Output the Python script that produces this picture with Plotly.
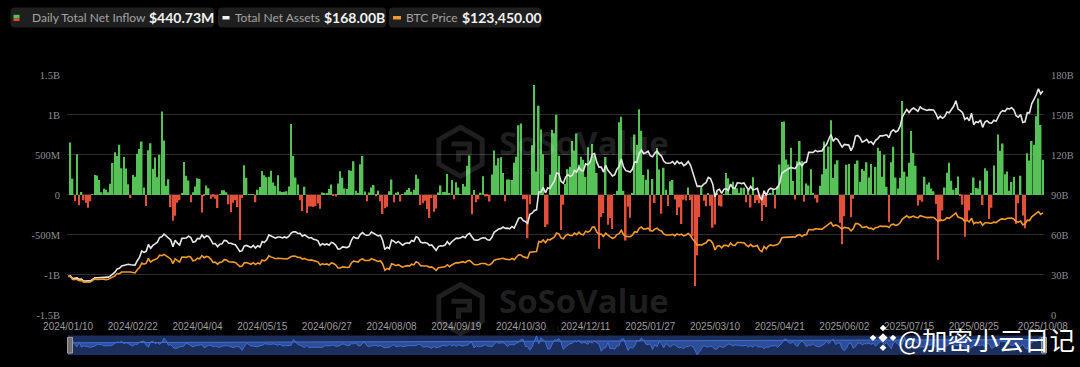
import plotly.graph_objects as go
import pandas as pd

# ---------------- data ----------------
START = "2024-01-10"
END = "2025-10-08"
HOLIDAYS = ["2024-01-15", "2024-02-19", "2024-03-29", "2024-05-27", "2024-06-19", "2024-07-04",
            "2024-09-02", "2024-11-28", "2024-12-25", "2025-01-01", "2025-01-09", "2025-01-20",
            "2025-02-17", "2025-04-18", "2025-05-26", "2025-06-19", "2025-07-04", "2025-09-01"]
DATES = [d.strftime("%Y/%m/%d") for d in pd.bdate_range(START, END, freq="C", holidays=HOLIDAYS)]

TICK_LABELS = ["2024/01/10", "2024/02/22", "2024/04/04", "2024/05/15", "2024/06/27", "2024/08/08",
               "2024/09/19", "2024/10/30", "2024/12/11", "2025/01/27", "2025/03/10", "2025/04/21",
               "2025/06/02", "2025/07/15", "2025/08/25", "2025/10/08"]

# Daily total net inflow, million USD
FLOW = [
    0, 655, 203, -78, 510, -130, 37, -65, -98, -159,
    -78, 8, 250, 242, 188, 35, 78, 65, 33, 139,
    400, 534, 486, 628, 335, 473, 330, 135, -37, 249,
    228, 514, 575, 669, 94, -139, 559, 645, 326, 469,
    220, 502, 1045, 681, 114, 196, -151, -322, -261, -98,
    -65, 24, 412, 241, 180, -90, 33, 106, 208, 200,
    -220, -8, 118, 82, -49, -24, -49, -163, 5, 57,
    57, 33, -118, -212, -98, -65, -151, -563, -37, 371,
    216, 5, 3, 5, -90, 65, 98, 298, 245, 220,
    228, 302, 155, 114, 245, 45, 37, 41, 45, 106,
    887, 488, 218, 131, -65, -200, 101, -226, -146, -146,
    -152, -140, -106, -174, 31, 21, 12, 73, 129, -14,
    -20, 143, 295, 216, 79, 73, 310, 301, 422, 53,
    20, 384, 486, 44, -78, 31, 92, 124, -18, 51,
    -80, -237, -168, -149, 45, 192, -90, 28, 40, -81,
    11, 33, 62, 88, 39, 65, 252, 203, -127, -105,
    -72, -175, -288, -37, -211, -170, 29, 117, 37, 39,
    263, 13, 187, -53, 158, 93, 5, 136, 106, 366,
    494, -243, 61, -92, -54, 26, 235, -19, -16, -81,
    254, 556, 371, 459, 471, 274, -79, 192, 192, 188,
    402, 479, 870, 893, -55, -55, -541, -117, 622, 1376,
    294, 1114, 818, 510, -401, -371, 255, 816, 773, 1002,
    490, -438, -123, 138, 320, 354, 676, 557, 767, 377,
    479, 439, 223, 597, 429, 637, 493, 275, -672, -277,
    -227, 475, -373, -288, -426, 5, 53, 908, 979, 52,
    -569, -149, -284, 19, 755, 626, 1073, 803, 249, 189,
    318, -458, 200, -100, 588, 318, -235, 341, 66, -140,
    172, 186, -57, -251, -156, -364, -61, -71, 94, -63,
    -516, -1138, -755, -276, 94, -74, -143, 22, -134, -409,
    -371, 13, -135, -144, 10, 275, 209, 10, 166, 83,
    84, 27, 90, 89, -93, 61, -158, 221, -100, -65,
    -104, -326, -127, -150, 2, 15, 76, -170, 107, 381,
    913, 917, 442, 380, 591, 173, -56, 422, 675, 425,
    -86, 142, 117, 321, 17, -40, -96, 115, 260, 667,
    329, 607, 935, 212, 385, 433, -347, -616, -268, 378,
    386, -278, -48, 386, 431, 165, 323, 302, 409, 217,
    388, 6, 350, 589, 549, 227, 501, 102, -342, 408,
    602, 217, 80, 216, 1176, 290, 230, 403, 799, 523,
    364, -131, -68, -86, 227, 131, 157, 80, 47, -115,
    -812, -333, -196, 92, 277, 404, 178, 66, 87, 231,
    -14, -122, -523, -312, -194, 23, 219, 88, 81, 180,
    -127, 333, 301, -301, -160, 368, 23, 757, 553, 642,
    260, 292, 51, 163, 223, -363, -104, 241, -258, -418,
    522, 430, 676, 627, 985, 1205, 876, 441,
]

# Total net assets, billion USD
TNA = [
    28.8, 29.3, 27.3, 27.4, 27.7, 26.6, 26.9, 25.4, 25.6, 25.6,
    25.4, 26.6, 27.8, 27.8, 27.8, 28.1, 28.3, 27.9, 28.3, 29.2,
    30.3, 32.0, 34.5, 34.9, 36.7, 37.3, 37.8, 38.0, 37.6, 37.5,
    37.3, 40.6, 43.1, 47.9, 46.9, 47.7, 52.8, 50.0, 52.1, 53.2,
    54.5, 58.0, 58.6, 60.6, 59.3, 58.0, 56.2, 51.2, 55.9, 53.8,
    52.4, 57.4, 57.8, 57.7, 59.0, 58.0, 54.4, 55.0, 57.3, 57.0,
    59.9, 57.8, 59.2, 58.8, 56.3, 53.2, 53.5, 51.2, 53.0, 53.3,
    55.9, 55.6, 53.7, 53.7, 53.0, 52.6, 50.1, 47.6, 48.2, 51.7,
    52.1, 51.4, 50.5, 52.1, 50.1, 51.9, 50.9, 55.1, 54.4, 56.1,
    60.0, 59.2, 58.5, 57.6, 58.4, 58.4, 57.7, 58.5, 57.8, 59.0,
    61.4, 62.4, 62.3, 61.1, 61.2, 59.1, 60.0, 58.5, 57.7, 58.0,
    56.7, 56.3, 55.5, 52.0, 53.4, 52.6, 53.2, 52.2, 54.4, 53.8,
    52.2, 49.3, 49.6, 51.0, 50.8, 50.5, 51.4, 56.0, 58.5, 57.6,
    57.4, 60.4, 61.7, 60.2, 59.6, 60.0, 62.1, 61.2, 60.6, 59.2,
    59.8, 56.0, 49.0, 50.7, 49.8, 56.1, 55.3, 53.9, 55.1, 53.3,
    52.3, 53.5, 54.1, 53.7, 55.8, 55.1, 58.7, 57.8, 54.6, 54.0,
    54.3, 53.8, 52.1, 52.5, 50.6, 48.4, 51.2, 51.9, 51.7, 52.4,
    55.0, 52.8, 54.9, 56.2, 57.6, 57.4, 57.8, 58.8, 57.9, 60.2,
    61.2, 58.6, 56.4, 56.1, 56.2, 57.4, 57.9, 57.7, 56.3, 56.0,
    58.2, 62.0, 63.4, 64.4, 64.7, 65.9, 64.9, 65.1, 64.6, 66.3,
    65.1, 68.9, 72.5, 73.0, 70.8, 70.0, 68.7, 75.4, 76.3, 78.3,
    78.8, 92.2, 92.2, 95.6, 91.6, 95.3, 94.9, 97.7, 100.5, 106.4,
    105.9, 100.1, 98.8, 103.2, 105.2, 103.9, 104.6, 108.3, 107.1, 110.7,
    108.4, 108.1, 113.3, 112.6, 114.6, 120.5, 121.1, 114.6, 110.9, 110.9,
    107.2, 112.2, 108.5, 106.4, 104.2, 105.1, 109.2, 111.3, 116.9, 111.0,
    108.2, 107.7, 107.2, 109.4, 114.8, 114.6, 121.0, 123.7, 121.1, 121.7,
    122.8, 119.4, 118.6, 121.3, 123.0, 120.6, 119.2, 115.4, 114.0, 113.8,
    113.9, 115.1, 113.0, 115.3, 113.6, 114.3, 111.9, 113.0, 115.1, 112.4,
    106.4, 102.2, 96.4, 96.6, 96.3, 98.2, 99.2, 103.1, 102.2, 98.1,
    88.5, 93.4, 94.2, 91.1, 94.3, 94.6, 93.4, 98.1, 95.2, 95.1,
    99.1, 99.0, 98.5, 99.0, 95.7, 93.6, 96.5, 93.7, 94.3, 95.0,
    88.8, 86.1, 93.1, 89.6, 93.8, 95.1, 94.1, 94.4, 95.5, 98.8,
    106.4, 107.7, 108.4, 109.7, 110.6, 110.0, 109.7, 112.8, 114.0, 111.8,
    114.2, 114.6, 122.0, 121.9, 121.8, 123.4, 122.5, 122.9, 123.0, 126.1,
    127.8, 131.8, 135.3, 130.2, 132.5, 131.6, 128.6, 125.9, 127.9, 127.8,
    127.4, 123.2, 126.6, 134.2, 134.7, 132.9, 129.6, 130.4, 131.7, 129.2,
    130.0, 128.0, 131.0, 132.3, 134.4, 134.3, 134.9, 135.1, 133.0, 137.4,
    138.9, 137.3, 138.3, 141.6, 148.6, 151.0, 154.2, 151.8, 154.0, 155.2,
    153.7, 152.8, 156.1, 154.6, 154.1, 153.4, 154.0, 154.0, 153.8, 151.1,
    147.1, 149.1, 147.5, 148.8, 152.3, 151.7, 154.4, 156.5, 160.7, 154.4,
    153.2, 151.7, 146.7, 148.0, 145.6, 151.3, 142.7, 145.0, 144.3, 146.3,
    140.7, 144.7, 145.7, 144.0, 143.9, 146.1, 145.3, 149.2, 151.9, 153.2,
    152.7, 154.9, 154.5, 155.4, 153.8, 149.4, 148.4, 150.3, 144.4, 144.9,
    151.7, 151.6, 158.4, 161.7, 165.0, 169.6, 165.8, 168.0,
]

# BTC price, thousand USD
BTC = [
    46.6, 46.3, 42.8, 43.1, 42.7, 41.3, 41.6, 39.5, 39.9, 40.1,
    39.9, 41.8, 43.3, 42.9, 42.6, 43.1, 43.2, 42.6, 43.1, 44.3,
    45.3, 47.1, 50.0, 49.7, 51.8, 51.9, 52.1, 52.3, 51.8, 51.3,
    50.7, 54.5, 57.1, 62.5, 61.2, 62.4, 68.3, 63.8, 66.1, 66.9,
    68.3, 72.1, 71.5, 73.1, 71.4, 69.5, 67.6, 61.9, 67.9, 65.5,
    63.8, 69.9, 69.9, 69.5, 70.8, 69.7, 65.4, 66.0, 68.5, 67.8,
    71.6, 69.1, 70.6, 70.0, 67.1, 63.4, 63.8, 61.3, 63.5, 63.8,
    66.8, 66.4, 64.3, 64.5, 63.8, 63.4, 60.6, 58.3, 59.1, 62.9,
    63.2, 62.3, 61.2, 63.1, 60.8, 62.9, 61.6, 66.3, 65.2, 67.0,
    71.4, 70.1, 69.1, 67.9, 68.5, 68.4, 67.6, 68.4, 67.5, 68.8,
    70.6, 71.1, 70.8, 69.3, 69.5, 67.3, 68.2, 66.8, 66.0, 66.5,
    65.2, 64.9, 64.1, 60.3, 61.8, 60.9, 61.6, 60.3, 62.7, 62.0,
    60.2, 56.7, 56.7, 58.0, 57.7, 57.3, 57.9, 62.8, 65.1, 64.1,
    63.9, 66.7, 67.6, 65.9, 65.4, 65.8, 67.9, 66.8, 66.2, 64.6,
    65.4, 61.5, 54.0, 56.0, 55.0, 61.7, 60.9, 59.4, 60.6, 58.7,
    57.6, 58.9, 59.5, 59.0, 61.2, 60.4, 64.1, 62.9, 59.5, 59.0,
    59.4, 59.1, 57.5, 58.0, 56.2, 53.9, 57.0, 57.6, 57.3, 58.1,
    60.6, 58.2, 60.3, 61.8, 63.2, 62.9, 63.3, 64.3, 63.1, 65.2,
    65.8, 63.3, 60.8, 60.6, 60.8, 62.1, 62.3, 62.1, 60.6, 60.3,
    62.4, 66.0, 67.0, 67.6, 67.4, 68.4, 67.4, 67.4, 66.7, 68.2,
    66.6, 69.9, 72.7, 72.3, 70.2, 69.5, 68.8, 75.6, 75.9, 76.5,
    76.7, 88.7, 87.9, 90.6, 87.2, 91.1, 90.5, 92.3, 94.3, 98.9,
    98.0, 93.0, 91.9, 95.9, 97.5, 95.9, 96.0, 98.8, 97.0, 99.9,
    97.4, 96.7, 101.2, 100.0, 101.4, 106.1, 106.1, 100.2, 97.5, 97.8,
    94.7, 98.7, 95.8, 94.2, 92.6, 93.4, 97.0, 98.1, 102.1, 96.9,
    95.0, 94.7, 94.5, 96.5, 100.5, 99.8, 104.5, 106.1, 103.7, 104.0,
    104.7, 102.1, 101.3, 103.7, 104.7, 102.4, 101.4, 97.9, 96.6, 96.6,
    96.5, 97.4, 95.7, 97.9, 96.6, 97.5, 95.6, 96.6, 98.3, 96.1,
    91.4, 88.7, 84.3, 84.7, 84.4, 86.1, 87.2, 90.6, 89.9, 86.7,
    78.5, 82.9, 83.7, 81.1, 84.0, 84.0, 82.7, 86.9, 84.2, 84.0,
    87.5, 87.4, 86.9, 87.2, 84.4, 82.5, 85.2, 82.5, 83.1, 83.8,
    78.4, 76.3, 82.6, 79.6, 83.4, 84.5, 83.6, 84.0, 84.9, 87.5,
    93.4, 93.7, 93.9, 94.7, 95.0, 94.3, 94.2, 96.5, 96.9, 94.7,
    96.8, 97.0, 103.2, 102.9, 102.8, 104.1, 103.5, 103.7, 103.5, 105.6,
    106.8, 109.6, 111.7, 107.3, 108.9, 107.8, 105.6, 103.9, 105.8, 105.4,
    104.7, 101.5, 104.3, 110.3, 110.3, 108.7, 105.7, 106.1, 106.8, 104.6,
    104.9, 103.3, 105.5, 106.0, 107.3, 107.0, 107.1, 107.1, 105.7, 108.9,
    109.6, 108.2, 108.9, 111.3, 115.9, 117.5, 119.8, 117.7, 118.7, 119.3,
    117.9, 117.3, 119.9, 118.8, 118.3, 117.6, 118.0, 117.9, 117.8, 115.8,
    113.3, 115.1, 114.1, 115.0, 117.5, 116.7, 118.7, 120.2, 123.3, 118.3,
    117.4, 116.3, 112.9, 114.2, 112.5, 116.9, 110.1, 111.8, 111.2, 112.6,
    108.4, 111.2, 111.7, 110.7, 110.7, 112.1, 111.5, 113.9, 115.5, 116.0,
    115.4, 116.8, 116.5, 117.1, 115.7, 112.7, 112.0, 113.3, 109.0, 109.7,
    114.4, 114.0, 118.6, 120.6, 122.3, 124.8, 121.4, 123.3,
]

assert len(DATES) == len(FLOW) == len(TNA) == len(BTC), (len(DATES), len(FLOW), len(TNA), len(BTC))

LEFT_TICKS = [-1500, -1000, -500, 0, 500, 1000, 1500]
LEFT_TEXT = ["-1.5B", "-1B", "-500M", "0", "500M", "1B", "1.5B"]
RIGHT_TICKS = [0, 30, 60, 90, 120, 150, 180]
RIGHT_TEXT = ["0", "30B", "60B", "90B", "120B", "150B", "180B"]

# ---------------- geometry / style ----------------
W, H = 1080, 367
ML, MR, MT, MB = 67, 36, 75, 6
PW, PH = W - ML - MR, H - MT - MB
MAIN_BOTTOM_PX = 320
SLIDER_TOP_PX = 341

def PX(x):
    return (x - ML) / PW

def PY(y):
    return (H - MB - y) / PH

GREEN = "#55c157"
RED = "#e2503c"
WHITE = "#e6e6e6"
ORANGE = "#f29a2e"
AXIS_GRAY = "#8c8c8c"

bar_colors = [GREEN if v >= 0 else RED for v in FLOW]

fig = go.Figure()
fig.add_trace(go.Bar(x=DATES, y=FLOW, marker=dict(color=bar_colors, line=dict(width=0)),
                     xaxis="x", yaxis="y", showlegend=False))
fig.add_trace(go.Scatter(x=DATES, y=TNA, mode="lines", line=dict(color=WHITE, width=1.6),
                         xaxis="x", yaxis="y2", showlegend=False))
fig.add_trace(go.Scatter(x=DATES, y=BTC, mode="lines", line=dict(color=ORANGE, width=1.6),
                         xaxis="x", yaxis="y3", showlegend=False))

# data-zoom slider shadow (bottom strip)
fmin, fmax = min(FLOW), max(FLOW)
fig.add_trace(go.Scatter(x=[DATES[0], DATES[-1]], y=[fmin, fmin], mode="lines",
                         line=dict(width=0), xaxis="x2", yaxis="y4", showlegend=False, hoverinfo="skip"))
fig.add_trace(go.Scatter(x=DATES, y=FLOW, mode="lines", line=dict(color="#3f6fd6", width=1),
                         fill="tonexty", fillcolor="rgba(52,88,170,0.75)",
                         xaxis="x2", yaxis="y4", showlegend=False, hoverinfo="skip"))

main_dom = [PY(MAIN_BOTTOM_PX), 1.0]
slider_dom = [0.0, PY(SLIDER_TOP_PX)]
NCAT = len(DATES)

axis_font = dict(family="Liberation Serif", size=10.5, color=AXIS_GRAY)

fig.update_layout(
    width=W, height=H,
    margin=dict(l=ML, r=MR, t=MT, b=MB),
    paper_bgcolor="#000000", plot_bgcolor="#000000",
    bargap=0.3,
    xaxis=dict(type="category", domain=[0, 1], anchor="y", range=[-0.5, NCAT - 0.5],
               tickmode="array", tickvals=TICK_LABELS, ticktext=TICK_LABELS,
               tickfont=dict(family="Liberation Sans", size=10, color="#9a9a9a"),
               showgrid=False, zeroline=False, showline=False, ticks="", ticklabelstandoff=4),
    yaxis=dict(domain=main_dom, range=[-1500, 1500], tickmode="array", tickvals=LEFT_TICKS,
               ticktext=LEFT_TEXT, tickfont=axis_font, gridcolor="#2f2f2f", gridwidth=1,
               zeroline=False, showline=False, ticks="", ticklabelstandoff=6),
    yaxis2=dict(overlaying="y", side="right", anchor="x", range=[0, 180], tickmode="array",
                tickvals=RIGHT_TICKS, ticktext=RIGHT_TEXT, tickfont=axis_font, showgrid=False,
                zeroline=False, showline=False, ticks="", ticklabelstandoff=6),
    yaxis3=dict(overlaying="y", range=[0, 290], visible=False),
    xaxis2=dict(type="category", domain=[0, 1], anchor="y4", range=[-0.5, NCAT - 0.5], visible=False),
    yaxis4=dict(domain=slider_dom, range=[fmin - 40, fmax + 40], visible=False),
)

shapes = []
# hide grid line at zero
shapes.append(dict(type="line", xref="paper", yref="y", x0=0, x1=1, y0=0, y1=0,
                   line=dict(color="#000000", width=2), layer="below"))
# slider background
shapes.append(dict(type="rect", xref="paper", yref="paper", x0=PX(68), x1=PX(1046),
                   y0=PY(361), y1=PY(341), fillcolor="#1c2f5c", line=dict(width=0), layer="below"))
# slider handles
shapes.append(dict(type="rect", xref="paper", yref="paper", x0=PX(67.5), x1=PX(72.5),
                   y0=PY(359), y1=PY(343), fillcolor="#6e6e6e", line=dict(color="#a0a0a0", width=1)))
shapes.append(dict(type="rect", xref="paper", yref="paper", x0=PX(1041.5), x1=PX(1046.5),
                   y0=PY(359), y1=PY(343), fillcolor="#6e6e6e", line=dict(color="#a0a0a0", width=1)))


def rounded(x0, x1, ytop, ybot, r=4):
    a0, a1 = PX(x0), PX(x1)
    bt, bb = PY(ytop), PY(ybot)
    rx, ry = r / PW, r / PH
    return (f"M {a0+rx},{bb} L {a1-rx},{bb} Q {a1},{bb} {a1},{bb+ry} L {a1},{bt-ry} "
            f"Q {a1},{bt} {a1-rx},{bt} L {a0+rx},{bt} Q {a0},{bt} {a0},{bt-ry} "
            f"L {a0},{bb+ry} Q {a0},{bb} {a0+rx},{bb} Z")


LEGEND_BG = "#1f1f1f"
for (x0, x1) in [(10.5, 214), (218, 386), (389, 541)]:
    shapes.append(dict(type="path", xref="paper", yref="paper", path=rounded(x0, x1, 6, 26.5),
                       fillcolor=LEGEND_BG, line=dict(width=0)))
# legend icons
shapes.append(dict(type="rect", xref="paper", yref="paper", x0=PX(13.5), x1=PX(19.5),
                   y0=PY(17.2), y1=PY(13.5), fillcolor=GREEN, line=dict(width=0)))
shapes.append(dict(type="rect", xref="paper", yref="paper", x0=PX(13.5), x1=PX(19.5),
                   y0=PY(19.8), y1=PY(17.2), fillcolor=RED, line=dict(width=0)))
shapes.append(dict(type="line", xref="paper", yref="paper", x0=PX(222.5), x1=PX(229.5),
                   y0=PY(16.5), y1=PY(16.5), line=dict(color="#f2f2f2", width=3.5)))
shapes.append(dict(type="line", xref="paper", yref="paper", x0=PX(393), x1=PX(401),
                   y0=PY(16.5), y1=PY(16.5), line=dict(color=ORANGE, width=3.5)))

# SoSoValue watermark logos (hexagons)
WM = "rgba(255,255,255,0.12)"
for cy in (153.5, 314.0):
    cx, R = 460.5, 25.0
    pts = [(cx, cy - R), (cx + 0.866 * R, cy - R / 2), (cx + 0.866 * R, cy + R / 2),
           (cx, cy + R), (cx - 0.866 * R, cy + R / 2), (cx - 0.866 * R, cy - R / 2)]
    p = "M " + " L ".join(f"{PX(a)},{PY(b)}" for a, b in pts) + " Z"
    shapes.append(dict(type="path", xref="paper", yref="paper", path=p,
                       line=dict(color=WM, width=5), fillcolor="rgba(0,0,0,0)"))
    inner = [(cx - 9, cy - 8), (cx + 9, cy - 8), (cx + 9, cy + 1), (cx - 2, cy + 1),
             (cx - 2, cy + 10)]
    p2 = "M " + " L ".join(f"{PX(a)},{PY(b)}" for a, b in inner)
    shapes.append(dict(type="path", xref="paper", yref="paper", path=p2,
                       line=dict(color=WM, width=5), fillcolor="rgba(0,0,0,0)"))

# Binance-style logo for the bottom-right watermark
bx, by = 883.0, 343.5
def diamond(cx, cy, r):
    return (f"M {PX(cx)},{PY(cy-r)} L {PX(cx+r)},{PY(cy)} L {PX(cx)},{PY(cy+r)} "
            f"L {PX(cx-r)},{PY(cy)} Z")
for (dx, dy, r) in [(0, 0, 4.6), (-10, 0, 3.3), (10, 0, 3.3), (0, -10, 3.3), (0, 10, 3.3)]:
    shapes.append(dict(type="path", xref="paper", yref="paper", path=diamond(bx + dx, by + dy, r),
                       fillcolor="#ffffff", line=dict(width=0)))
fig.update_layout(shapes=shapes)

ann = []
def text(x, y, s, size, color, family="Lato", xanchor="left"):
    ann.append(dict(x=PX(x), y=PY(y), xref="paper", yref="paper", text=s, showarrow=False,
                    xanchor=xanchor, yanchor="middle", font=dict(family=family, size=size, color=color)))

text(29.5, 16.3, "Daily Total Net Inflow", 12, "#a3a3a3")
text(147, 16.3, "<b>$440.73M</b>", 14, "#f2f2f2")
text(233, 16.3, "Total Net Assets", 12, "#a3a3a3")
text(322, 16.3, "<b>$168.00B</b>", 14, "#f2f2f2")
text(404, 16.3, "BTC Price", 12, "#a3a3a3")
text(460, 16.3, "<b>$123,450.00</b>", 14, "#f2f2f2")

# SoSoValue text watermarks
text(497, 144, "<b>SoSoValue</b>", 33, WM, family="Open Sans")
text(502, 172, "s o s o v a l u e . c o m", 10, WM, family="Open Sans")
text(497, 305, "<b>SoSoValue</b>", 33, WM, family="Open Sans")
text(502, 333, "s o s o v a l u e . c o m", 10, WM, family="Open Sans")

# Binance square watermark
text(896, 344.5, "@加密小云日记", 25.5, "#ffffff", family="Noto Sans CJK SC")

fig.update_layout(annotations=ann)

fig.write_html("out.html", config={"displayModeBar": False},
               post_script="document.body.style.margin='0';document.body.style.background='#000';")
